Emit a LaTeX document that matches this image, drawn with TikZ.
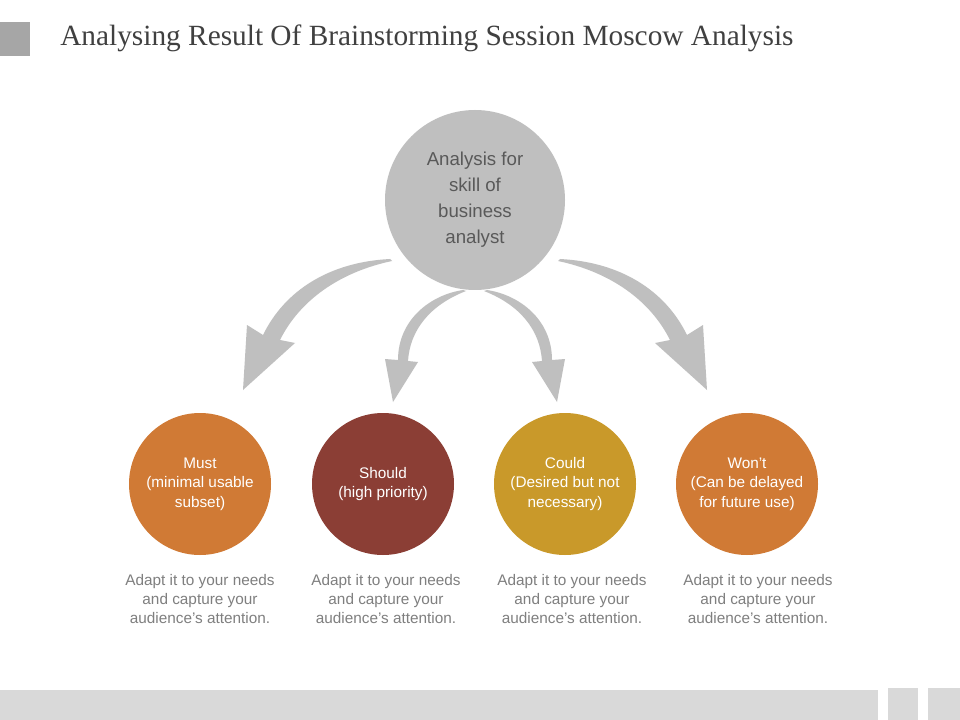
\documentclass[tikz,border=0pt]{standalone}
\usepackage{fontspec}
\setmainfont{Liberation Sans}
\newfontfamily\titlefont{Liberation Serif}
\definecolor{cgray}{HTML}{BFBFBF}
\definecolor{corange}{HTML}{D07A35}
\definecolor{cred}{HTML}{8B3E35}
\definecolor{cgold}{HTML}{C9992A}
\definecolor{ctext}{HTML}{595959}
\definecolor{ccap}{HTML}{7F7F7F}
\definecolor{cbar}{HTML}{D9D9D9}
\definecolor{csq}{HTML}{A6A6A6}
\definecolor{ctitle}{HTML}{404040}
\begin{document}
\begin{tikzpicture}[x=0.75pt,y=-0.75pt,
  small/.style={circle,minimum size=106.5pt,inner sep=0pt,text=white,align=center,font=\fontsize{11.5}{14.5}\selectfont},
  captext/.style={text=ccap,align=center,font=\fontsize{11.5}{14.5}\selectfont},
  arr/.style={fill=cgray,draw=none}]
\useasboundingbox (0,0) rectangle (960,720);
\fill[white] (0,0) rectangle (960,720);
\fill[cbar] (0,690) rectangle (878,720);
\fill[cbar] (888,688) rectangle (918,720);
\fill[cbar] (928,688) rectangle (960,720);
\fill[csq] (0,22) rectangle (30,56);
\node[anchor=west,text=ctitle,font=\titlefont\fontsize{22}{26}\selectfont,inner sep=0pt] (title) at (60,38) {Analysing Result Of Brainstorming Session Moscow Analysis};
% arrows
\fill[arr] (390,259) .. controls (330,262) and (285,290) .. (263,335) -- (247,325) -- (243,390) -- (295,343) -- (280,340) .. controls (300,300) and (340,272) .. (392,261) -- cycle;
\fill[arr] (463,290) .. controls (430,295) and (398,320) .. (398,360) -- (385,359) -- (393,402) -- (418,362) -- (408,361) .. controls (410,330) and (430,305) .. (466,291) -- cycle;
\begin{scope}[xshift=950*0.75pt,xscale=-1]
\fill[arr] (390,259) .. controls (330,262) and (285,290) .. (263,335) -- (247,325) -- (243,390) -- (295,343) -- (280,340) .. controls (300,300) and (340,272) .. (392,261) -- cycle;
\fill[arr] (463,290) .. controls (430,295) and (398,320) .. (398,360) -- (385,359) -- (393,402) -- (418,362) -- (408,361) .. controls (410,330) and (430,305) .. (466,291) -- cycle;
\end{scope}
\node[circle,fill=cgray,minimum size=135pt,inner sep=0pt,text=ctext,align=center,font=\fontsize{14}{19.5}\selectfont] (main) at (475,200) {Analysis for\\skill of\\business\\analyst};
\node[small,fill=corange] (must) at (200,484) {Must\\(minimal usable\\subset)};
\node[small,fill=cred] (should) at (383,484) {Should\\(high priority)};
\node[small,fill=cgold] (could) at (565,484) {Could\\(Desired but not\\necessary)};
\node[small,fill=corange] (wont) at (747,484) {Won’t\\(Can be delayed\\for future use)};
\foreach \n/\x in {c1/200,c2/386,c3/572,c4/758}{
  \node[captext] (\n) at (\x,599) {Adapt it to your needs\\and capture your\\audience's attention.};
}
\end{tikzpicture}
\end{document}
